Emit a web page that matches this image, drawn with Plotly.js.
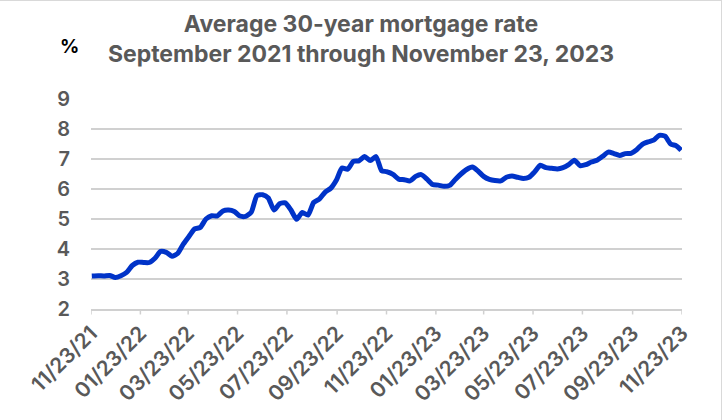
<!DOCTYPE html>
<html>
<head>
<meta charset="utf-8">
<script src="https://cdn.plot.ly/plotly-3.0.1.min.js"></script>
<style>
html,body{margin:0;padding:0;background:#fff;}
#chart{width:722px;height:420px;box-sizing:border-box;border-top:1px solid #d9d9d9;border-right:1px solid #d9d9d9;}
</style>
</head>
<body>
<div id="chart"></div>
<script>
const dates = [
"2021-11-24","2021-12-02","2021-12-09","2021-12-16","2021-12-23","2021-12-30",
"2022-01-06","2022-01-13","2022-01-20","2022-01-27","2022-02-03","2022-02-10","2022-02-17","2022-02-24",
"2022-03-03","2022-03-10","2022-03-17","2022-03-24","2022-03-31","2022-04-07","2022-04-14","2022-04-21","2022-04-28",
"2022-05-05","2022-05-12","2022-05-19","2022-05-26","2022-06-02","2022-06-09","2022-06-16","2022-06-23","2022-06-30",
"2022-07-07","2022-07-14","2022-07-21","2022-07-28","2022-08-04","2022-08-11","2022-08-18","2022-08-25",
"2022-09-01","2022-09-08","2022-09-15","2022-09-22","2022-09-29","2022-10-06","2022-10-13","2022-10-20","2022-10-27",
"2022-11-03","2022-11-10","2022-11-17","2022-11-23","2022-12-01","2022-12-08","2022-12-15","2022-12-22","2022-12-29",
"2023-01-05","2023-01-12","2023-01-19","2023-01-26","2023-02-02","2023-02-09","2023-02-16","2023-02-23",
"2023-03-02","2023-03-09","2023-03-16","2023-03-23","2023-03-30","2023-04-06","2023-04-13","2023-04-20","2023-04-27",
"2023-05-04","2023-05-11","2023-05-18","2023-05-25","2023-06-01","2023-06-08","2023-06-15","2023-06-22","2023-06-29",
"2023-07-06","2023-07-13","2023-07-20","2023-07-27","2023-08-03","2023-08-10","2023-08-17","2023-08-24","2023-08-31",
"2023-09-07","2023-09-14","2023-09-21","2023-09-28","2023-10-05","2023-10-12","2023-10-19","2023-10-26",
"2023-11-02","2023-11-09","2023-11-16","2023-11-22"
];
const rates = [
3.10,3.11,3.10,3.12,3.05,3.11,
3.22,3.45,3.56,3.55,3.55,3.69,3.92,3.89,
3.76,3.85,4.16,4.42,4.67,4.72,5.00,5.11,5.10,
5.27,5.30,5.25,5.10,5.09,5.23,5.78,5.81,5.70,
5.30,5.51,5.54,5.30,4.99,5.22,5.13,5.55,
5.66,5.89,6.02,6.29,6.70,6.66,6.92,6.94,7.08,
6.95,7.08,6.61,6.58,6.49,6.33,6.31,6.27,6.42,
6.48,6.33,6.15,6.13,6.09,6.12,6.32,6.50,
6.65,6.73,6.60,6.42,6.32,6.28,6.27,6.39,6.43,
6.39,6.35,6.39,6.57,6.79,6.71,6.69,6.67,6.71,
6.81,6.96,6.78,6.81,6.90,6.96,7.09,7.23,7.18,
7.12,7.18,7.19,7.31,7.49,7.57,7.63,7.79,
7.76,7.50,7.44,7.29
];
const tickDates = ["2021-11-23","2022-01-23","2022-03-23","2022-05-23","2022-07-23","2022-09-23","2022-11-23",
"2023-01-23","2023-03-23","2023-05-23","2023-07-23","2023-09-23","2023-11-23"];
const yTicks = [2,3,4,5,6,7,8,9];
const titleText = "Average 30-year mortgage rate<br>September 2021 through November 23, 2023";
const unitLabel = "%";

const font = "Inter, Liberation Sans, sans-serif";
const grey = "#595959";
const axisGrey = "#d0d0d0";

// small visible tick marks under the axis line, one per tick date
const tickShapes = tickDates.map(d => ({
  type: "line", xref: "x", yref: "paper", x0: d, x1: d, y0: 0, y1: -0.026,
  line: {color: axisGrey, width: 1.5}
}));

Plotly.newPlot("chart", [{
  x: dates, y: rates, type: "scatter", mode: "lines",
  line: {color: "#0033c8", width: 5, shape: "spline", smoothing: 0.6},
  hoverinfo: "x+y"
}], {
  width: 722, height: 420,
  margin: {l: 91, r: 40, t: 98, b: 112},
  paper_bgcolor: "rgba(0,0,0,0)", plot_bgcolor: "#fff",
  showlegend: false,
  title: {text: titleText, x: 0.5, xref: "container", xanchor: "center", yref: "container", y: 0.927, yanchor: "top",
          font: {family: font, size: 23, color: grey, weight: 700}},
  xaxis: {
    type: "date", range: ["2021-11-23", "2023-11-23"],
    tickmode: "array", tickvals: tickDates, tickformat: "%m/%d/%y",
    tickangle: -45, ticks: "outside", ticklen: 2, tickcolor: "rgba(0,0,0,0)",
    showline: true, linecolor: axisGrey, linewidth: 1.5,
    showgrid: false, zeroline: false,
    tickfont: {family: font, size: 21, color: grey, weight: 600}
  },
  yaxis: {
    range: [2, 9], tickvals: yTicks, ticks: "outside", ticklen: 16, tickcolor: "rgba(0,0,0,0)",
    showgrid: true, gridcolor: axisGrey, gridwidth: 1.5, zeroline: false,
    showline: false,
    tickfont: {family: font, size: 20, color: grey, weight: 600}
  },
  shapes: tickShapes,
  annotations: [{
    text: unitLabel, xref: "paper", yref: "paper", x: -0.036, y: 1.248,
    xanchor: "center", yanchor: "middle", showarrow: false,
    font: {family: font, size: 19, color: "#000", weight: "bold"}
  }]
}, {displayModeBar: false});
</script>
</body>
</html>
